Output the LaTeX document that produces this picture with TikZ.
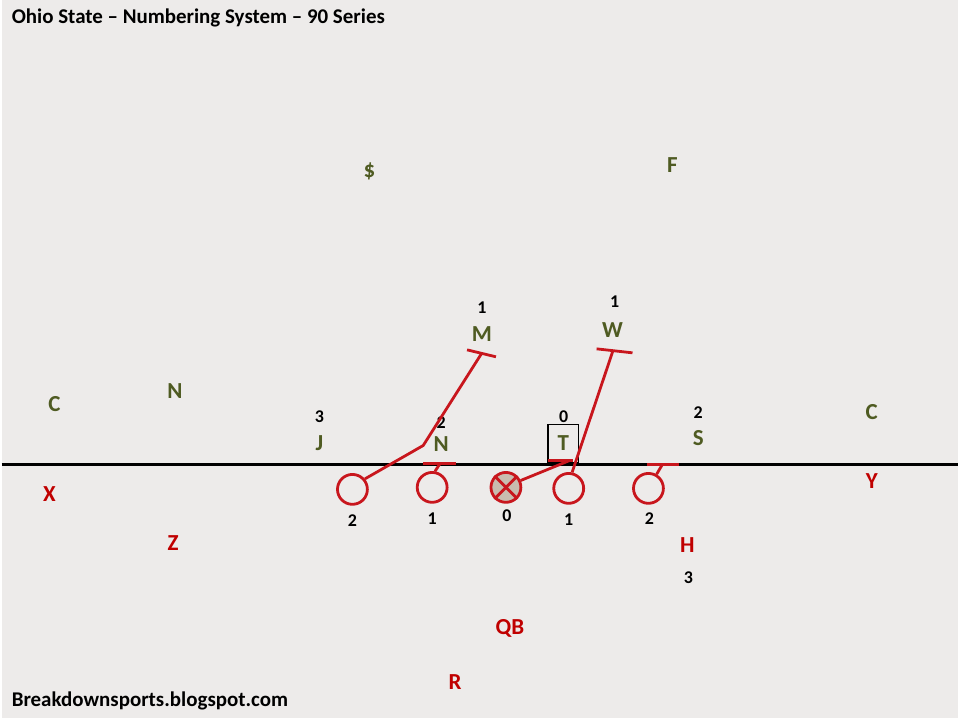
\documentclass[tikz,border=0pt]{standalone}
\usepackage{fontspec}
\setmainfont{Carlito}
\definecolor{bgcol}{HTML}{EDEBEA}
\definecolor{defcol}{HTML}{4F5B22}
\definecolor{offcol}{HTML}{C00000}
\definecolor{linecol}{HTML}{C8161D}
\definecolor{ballcol}{HTML}{C9BCAF}
\begin{document}
\begin{tikzpicture}
    [
        x=1pt, y=-1pt,
        defense/.style={text=defcol, font=\bfseries\fontsize{23}{23}\selectfont, inner sep=0pt},
        offense/.style={text=offcol, font=\bfseries\fontsize{23}{23}\selectfont, inner sep=0pt},
        num/.style={font=\bfseries\fontsize{18}{18}\selectfont, inner sep=0pt},
        caption/.style={anchor=west, font=\bfseries\fontsize{21}{21}\selectfont, inner sep=0pt},
        lineman/.style={circle, draw=linecol, line width=2.8pt, minimum size=30pt, inner sep=0pt},
        block/.style={draw=linecol, line width=2.8pt}
    ]
    % Background
    \fill[bgcol] (0,0) rectangle (960,720);

    % Titles
    \node[caption] (title) at (10,18) {Ohio State -- Numbering System -- 90 Series};
    \node[caption] (footer) at (10,703) {Breakdownsports.blogspot.com};

    % Line of scrimmage
    \coordinate (losL) at (0,466);
    \coordinate (losR) at (960,466);
    \draw[line width=3.2pt] (losL) -- (losR);

    % Defense
    \node[defense] (dollar) at (369,172) {\$};
    \node[defense] (free) at (673,166) {F};
    \node[defense] (mike) at (482,335) {M};
    \node[defense] (will) at (613,331) {W};
    \node[defense] (cornerL) at (53,405) {C};
    \node[defense] (nickel) at (174,392) {N};
    \node[defense] (jack) at (319,445) {J};
    \node[defense] (nose) at (441,446) {N};
    \node[defense, draw=black, line width=1.5pt, minimum width=31pt, minimum height=38pt] (tackle) at (563.5,445) {T};
    \node[defense] (sam) at (699,440) {S};
    \node[defense] (cornerR) at (873,413) {C};

    % Defensive numbers
    \node[num] (nMike) at (482,309) {1};
    \node[num] (nWill) at (615,303) {1};
    \node[num] (nJack) at (319,418) {3};
    \node[num] (nNose) at (441,424) {2};
    \node[num] (nTackle) at (564,418) {0};
    \node[num] (nSam) at (699,414) {2};

    % Offense
    \node[offense] (xrec) at (48,496) {X};
    \node[offense] (zrec) at (172,545) {Z};
    \node[offense] (yrec) at (873,483) {Y};
    \node[offense] (hback) at (688,547) {H};
    \node[offense] (qb) at (510,631) {QB};
    \node[offense] (rback) at (455,684) {R};

    % Offensive line
    \node[lineman] (lg) at (352,491) {};
    \node[lineman] (lt) at (432,489) {};
    \node[lineman, fill=ballcol] (ctr) at (506,489) {};
    \node[lineman] (rg) at (569,490) {};
    \node[lineman] (rt) at (649,490) {};
    \draw[block] (ctr.45) -- (ctr.225);
    \draw[block] (ctr.135) -- (ctr.315);

    % Gap numbers
    \node[num] (gLG) at (352,522) {2};
    \node[num] (gLT) at (432,520) {1};
    \node[num] (gC) at (507,517) {0};
    \node[num] (gRG) at (569,521) {1};
    \node[num] (gRT) at (650,520) {2};
    \node[num] (gH) at (689,580) {3};

    % Blocks
    \coordinate (bendM) at (423,447);
    \coordinate (tipM) at (482,354);
    \coordinate (barM1) at (467,351);
    \coordinate (barM2) at (496,358);
    \draw[block] (lg.40) -- (bendM) -- (tipM);
    \draw[block] (barM1) -- (barM2);

    \coordinate (tipN) at (440,465);
    \coordinate (barN1) at (423,465);
    \coordinate (barN2) at (456,465);
    \draw[block] (lt.80) -- (tipN);
    \draw[block] (barN1) -- (barN2);

    \coordinate (tipT) at (570,462);
    \coordinate (barT1) at (548,462);
    \coordinate (barT2) at (573,462);
    \draw[block] (ctr.25) -- (tipT);
    \draw[block] (barT1) -- (barT2);

    \coordinate (tipW) at (613,353);
    \coordinate (barW1) at (597,350);
    \coordinate (barW2) at (633,354);
    \draw[block] (rg.78) -- (tipW);
    \draw[block] (barW1) -- (barW2);

    \coordinate (tipS) at (663,466);
    \coordinate (barS1) at (648,466);
    \coordinate (barS2) at (680,466);
    \draw[block] (rt.60) -- (tipS);
    \draw[block] (barS1) -- (barS2);
\end{tikzpicture}
\end{document}
